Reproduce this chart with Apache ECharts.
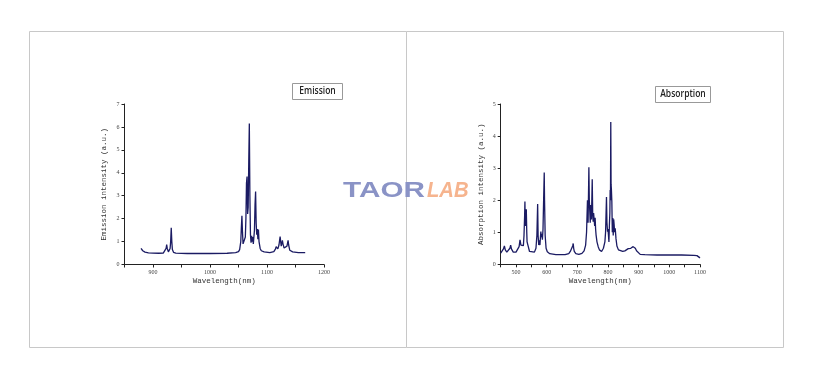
<!DOCTYPE html>
<html>
<head>
<meta charset="utf-8">
<script src="https://cdn.jsdelivr.net/npm/echarts@6/dist/echarts.min.js"></script>
<style>html,body{margin:0;padding:0;background:#fff;}#c{width:816px;height:384px;}</style>
</head>
<body>
<div id="c"></div>
<script>
// Emission spectrum: [wavelength nm, intensity a.u.]
const emissionData = [
[879,0.70],[882,0.60],[886,0.54],[892,0.51],[900,0.50],[910,0.49],[918,0.50],[921,0.56],[923,0.70],[924,0.87],[925,0.70],[927,0.55],
[929,0.55],[930,0.70],[931,1.00],[932,1.60],[933,1.00],[934,0.65],[936,0.53],[940,0.50],[960,0.48],[1000,0.48],[1030,0.49],[1045,0.52],
[1050,0.56],[1052,0.65],[1054,1.00],[1055,1.60],[1056,2.12],[1057,1.40],[1058,0.90],[1060,0.85],[1062,1.20],[1063,2.00],[1064,3.55],
[1065,3.84],[1066,2.20],[1067,2.50],[1068,4.50],[1069,6.15],[1070,3.00],[1071,1.30],[1072,0.95],[1073,1.25],[1074,1.00],[1075,1.20],
[1076,0.90],[1077,0.85],[1078,1.50],[1079,2.60],[1080,3.18],[1081,1.80],[1082,1.30],[1083,1.55],[1084,1.10],[1085,1.52],[1086,1.00],
[1088,0.70],[1090,0.60],[1095,0.55],[1105,0.52],[1112,0.56],[1115,0.68],[1116,0.78],[1117,0.70],[1119,0.68],[1121,0.85],[1123,1.22],
[1124,1.00],[1125,0.80],[1127,1.05],[1128,0.90],[1130,0.72],[1133,0.68],[1135,0.80],[1137,1.05],[1138,0.85],[1140,0.62],[1145,0.55],
[1155,0.52],[1167,0.52]
];
// Absorption spectrum: [wavelength nm, intensity a.u.]
const absorptionData = [
[450,0.35],[455,0.38],[459,0.48],[462,0.57],[465,0.45],[470,0.38],[476,0.40],[480,0.50],[482.5,0.60],[485,0.48],[491,0.38],[500,0.38],
[506,0.42],[510,0.55],[513,0.76],[516,0.60],[520,0.60],[524,0.58],[526,0.90],[528,1.50],[529,1.96],[530,1.30],[531,1.20],[532,1.50],
[533.5,1.72],[535,1.00],[536,0.70],[538,0.76],[540,0.55],[544,0.40],[550,0.36],[560,0.38],[565,0.50],[568,0.90],[570.5,1.88],[572,0.90],
[574,0.60],[576,0.75],[578,0.60],[580,0.90],[581,1.02],[582,0.85],[584,0.95],[586,0.77],[588,1.10],[590,2.00],[592,2.86],[593,2.00],
[595,0.90],[598,0.50],[602,0.39],[610,0.33],[630,0.30],[660,0.30],[672,0.33],[677,0.40],[680,0.45],[683,0.45],[685,0.58],[686.5,0.65],
[688,0.50],[690,0.40],[695,0.33],[705,0.31],[715,0.34],[722,0.42],[727,0.60],[730,1.00],[733,2.00],[735,1.30],[737.6,3.03],[739,2.00],
[741,1.54],[742,1.30],[744,1.85],[746,1.40],[748.5,2.65],[750,1.60],[751.6,1.33],[753,1.60],[755,1.54],[756.5,1.20],[758,1.45],
[759.5,1.10],[761,0.92],[764,0.70],[768,0.55],[772,0.45],[779,0.40],[785,0.50],[789.8,0.70],[792,1.00],[795,2.10],[796.5,1.30],
[798.5,1.02],[800,1.10],[801.5,0.90],[803,0.70],[804.5,1.23],[806,1.60],[807,2.32],[808,2.00],[809,4.44],[810,2.50],[811,2.35],
[812.5,1.96],[814,1.00],[815.8,1.44],[817,0.90],[818.5,1.40],[820,1.23],[821.5,1.00],[823.5,1.12],[826,0.80],[829,0.57],[834,0.45],
[838.6,0.40],[848,0.40],[855,0.42],[860,0.45],[866,0.49],[870,0.50],[874,0.50],[878,0.52],[882,0.55],[885,0.58],[889,0.50],[893,0.42],
[898,0.36],[905,0.31],[920,0.30],[960,0.29],[1000,0.29],[1040,0.29],[1080,0.28],[1090,0.27],[1095,0.24],[1100,0.20]
];
const emissionX = {min: 850, max: 1200, step: 50, label: 100};
const emissionY = {min: 0, max: 7, step: 1};
const absorptionX = {min: 450, max: 1100, step: 50, label: 100};
const absorptionY = {min: 0, max: 5, step: 1};
const titles = {left: 'Emission', right: 'Absorption'};
const axisNames = {emY: 'Emission intensity (a.u.)', abY: 'Absorption intensity (a.u.)', x: 'Wavelength(nm)'};

const lineColor = '#1b1b63';
const tickFont = {fontFamily: 'Liberation Serif', fontSize: 6, color: '#444'};
const nameFont = {fontFamily: 'Liberation Mono', fontSize: 7.5, color: '#333'};
function xAx(idx, cfg) {
  return {
    type: 'value', gridIndex: idx, min: cfg.min, max: cfg.max, interval: cfg.step,
    name: axisNames.x, nameLocation: 'middle', nameGap: 13, nameTextStyle: nameFont,
    axisLine: {show: true, lineStyle: {color: '#222', width: 1}},
    axisTick: {show: true, length: 3, lineStyle: {color: '#222'}},
    axisLabel: Object.assign({margin: 5, formatter: v => (v % cfg.label === 0 ? String(v) : '')}, tickFont),
    splitLine: {show: false}
  };
}
function yAx(idx, cfg, name) {
  return {
    type: 'value', gridIndex: idx, min: cfg.min, max: cfg.max, interval: cfg.step,
    name: name, nameLocation: 'middle', nameGap: 16, nameTextStyle: nameFont,
    axisLine: {show: true, lineStyle: {color: '#222', width: 1}},
    axisTick: {show: true, length: 3, lineStyle: {color: '#222'}},
    axisLabel: Object.assign({margin: 5}, tickFont),
    splitLine: {show: false}
  };
}
const chart = echarts.init(document.getElementById('c'), null, {renderer: 'canvas'});
chart.setOption({
  animation: false,
  backgroundColor: '#fff',
  grid: [
    {left: 124.5, top: 104, width: 199.5, height: 160.5},
    {left: 500.7, top: 104, width: 199.3, height: 160.3}
  ],
  xAxis: [xAx(0, emissionX), xAx(1, absorptionX)],
  yAxis: [yAx(0, emissionY, axisNames.emY), yAx(1, absorptionY, axisNames.abY)],
  series: [
    {type: 'line', xAxisIndex: 0, yAxisIndex: 0, data: emissionData, showSymbol: false,
     lineStyle: {color: lineColor, width: 1.3}},
    {type: 'line', xAxisIndex: 1, yAxisIndex: 1, data: absorptionData, showSymbol: false,
     lineStyle: {color: lineColor, width: 1.3}}
  ],
  graphic: [
    {type: 'rect', shape: {x: 29.5, y: 31.5, width: 754, height: 316}, style: {fill: 'none', stroke: '#c8c8c8', lineWidth: 1}, silent: true},
    {type: 'line', shape: {x1: 406.5, y1: 31.5, x2: 406.5, y2: 347.5}, style: {stroke: '#c8c8c8', lineWidth: 1}, silent: true},
    {type: 'rect', shape: {x: 292.5, y: 83.5, width: 50, height: 16}, style: {fill: '#fff', stroke: '#999', lineWidth: 1}},
    {type: 'text', x: 317.5, y: 91.5, scaleX: 0.85, style: {text: titles.left, font: '600 10px "Open Sans"', fill: '#222', align: 'center', verticalAlign: 'middle'}},
    {type: 'rect', shape: {x: 655.5, y: 86.5, width: 55, height: 16}, style: {fill: '#fff', stroke: '#999', lineWidth: 1}},
    {type: 'text', x: 683, y: 94.5, scaleX: 0.85, style: {text: titles.right, font: '600 10px "Open Sans"', fill: '#222', align: 'center', verticalAlign: 'middle'}},
    {type: 'text', x: 343, y: 191, scaleX: 1.35, style: {text: 'TAOR', font: 'bold 22px "Liberation Sans"', fill: '#8a93c6', verticalAlign: 'middle'}},
    {type: 'text', x: 427, y: 191, scaleX: 0.92, style: {text: 'LAB', font: 'italic bold 22px "Liberation Sans"', fill: '#f6b48e', verticalAlign: 'middle'}}
  ]
});
</script>
</body>
</html>
